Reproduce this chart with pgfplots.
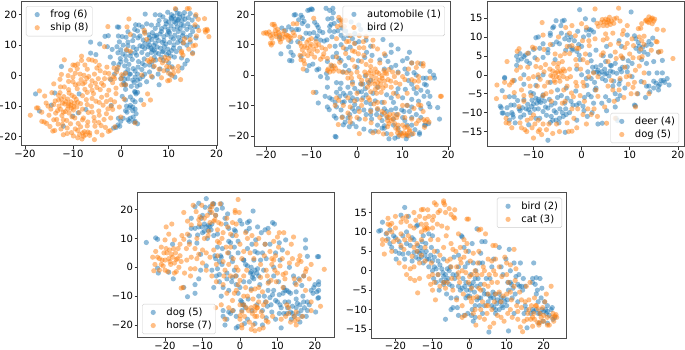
\documentclass[border=0pt]{standalone}
\usepackage{pgfplots}
\usepackage{fontspec}
\setmainfont{DejaVu Sans}
\pgfplotsset{compat=1.18}
\definecolor{tb}{HTML}{1F77B4}
\definecolor{to}{HTML}{FF7F0E}
\pgfplotsset{
  panel/.style={scale only axis, axis line style={black!70,line width=0.6pt},
    tick style={black!80,line width=0.5pt}, tick align=outside, tickwidth=3pt, xtick pos=bottom, ytick pos=left,
    ticklabel style={font=\fontsize{10}{12}\selectfont, inner sep=1.5pt},
    legend cell align=left,
    legend style={draw=black!20, rounded corners=1.5pt, fill=white, fill opacity=0.8, text opacity=1, font=\fontsize{10}{13}\selectfont, inner sep=1.8pt, row sep=0pt}},
  low/.style={xticklabel style={inner sep=0.7pt}},
  b/.style={only marks, mark=*, mark size=2.6pt, mark options={draw=tb, fill=tb, draw opacity=0, fill opacity=0.5},
    legend image code/.code={\path (0pt,0pt) (20pt,0pt); \draw[##1] plot coordinates {(9pt,0pt)};}},
  o/.style={only marks, mark=*, mark size=2.6pt, mark options={draw=to, fill=to, draw opacity=0, fill opacity=0.5},
    legend image code/.code={\path (0pt,0pt) (20pt,0pt); \draw[##1] plot coordinates {(9pt,0pt)};}},
}
\begin{document}
\begin{tikzpicture}[x=1pt,y=1pt]
\path[use as bounding box] (0,0) rectangle (685,349);
% panel 1
\begin{axis}[panel, at={(21.7pt,203.3pt)}, anchor=south west, width=195.3pt, height=144.7pt,
  xmin=-20.7,xmax=20.1,ymin=-23,ymax=24.5,
  xtick={-20,-10,0,10,20},xticklabels={−20,−10,0,10,20},
  ytick={-20,-10,0,10,20},yticklabels={−20,−10,0,10,20},
  legend style={at={(0.022,0.965)},anchor=north west}]
\addplot[b,forget plot] coordinates {(6,10)(7.5,12.5)(9,11.5)(10,14.5)(11,12)(12,14.5)(13,14)(14,17)(13,19.5)(10.5,19)(9.5,17)(8.5,14.5)(7,13)(6,12.5)(5,10.5)(4.5,9.5)(3,7.5)(2,6.5)(1,6.5)(0,4.5)(1.5,2)(3,1.5)(4.5,4)(6,3.5)(7,6)(8.5,6)(10,7.5)(11,9)(12.5,11.5)(14.5,11)(15,14.5)(16,16)(4,13)(4.5,16)(1.5,11)(0,8.5)(-1.5,4)(-2.8,9.5)(2.5,-8)(1,-8)(4,-3)(5,0.5)(6.5,4.5)};
\addplot[b] coordinates {(-17.8,-6)(-17,-11.6)(-14.5,-9.7)(-13.8,-5.7)(-12.4,3)(-8.7,-6)(-10,-13.3)(-8.9,-12.2)(-7.3,-11.1)(-12,-16.6)(-6.3,11)(-4.4,10.4)(-6.3,7.4)(-5.2,6.9)(-3.3,12.9)(-2.6,13.1)
(-1,-17)(-1.5,-17.2)(-0.6,-16.2)(-0.2,-16.6)(0,-15)(0.5,-14)(1.5,-14.5)(2,-14)(2.6,-13.6)(3,-15)(3.5,-15.8)(2.8,-15.2)(1.8,-15)(3.2,-12.5)(1,-11.5)(1.8,-10.5)(1.2,-10)(2.5,-10.3)(2,-9.8)(3,-11)(-0.5,-14)(1.3,-12)
(0,-1)(0.5,0)(1,1)(1.5,-1)(2,0.5)(2.5,-1.5)(3,-0.5)(3.5,0.5)(4,-1)(4.6,-0.3)(1,-3)(0.6,-2.5)(0.7,-3)(2.2,-3.5)(3.4,-3.5)(3,-5.5)(3.2,-6)(2.9,-5.2)(3.5,-5.5)(0.3,-6.8)(2,-7)(4.2,-8)(3,-8.6)(5.4,-2)(8,-3)(6.6,-0.5)(7.8,0.5)(10.4,0.4)(11.3,-0.5)(-0.8,2)(-1.3,0.5)(-0.4,3.6)(-0.1,5.6)(0.8,3.2)(1.7,3.7)(2.6,2.3)(3.6,2.8)(4.4,2)(5,3.4)(6,1.2)(6.8,2.9)(8.2,2.2)(9.7,1.8)(10.7,2.9)(12.8,2.5)(13.4,3.8)(1.1,5)(2.4,5.3)(3.7,4.6)(4.9,5.5)(7.3,5.1)(8.9,5)(10,4.2)(-0.6,7.5)(-1.8,8.6)(-2.2,6.1)(0.4,7.1)(1.2,8.2)(2.1,7.5)(3.3,6.7)(4.4,7.6)(5.6,6.9)(6.4,7.6)(7,8.4)(7.9,7.2)(8.7,7.8)(9.6,6.9)(10.4,6.5)(11.2,6.1)(12.7,5.8)(13.9,5)(15,7.5)(-0.8,9.5)(-0.3,11.1)(0.5,10)(1.5,9.8)(2.6,9.3)(3.3,8.7)(4,9.8)(5,8.9)(5.7,9.5)(6.3,9)(6.9,9.9)(7.6,9.4)(8.3,9)(9.1,9.5)(9.8,8.7)(10.6,8.2)(11.6,7.9)(12.3,9)(-0.5,13)(0.3,12.8)(1.1,12.6)(-0.4,15.9)(-0.7,16)(1.5,14.4)(2.9,15.2)(3.1,16.7)(3.8,16.6)(3.5,14.7)(2.7,13.1)(2.5,11.5)(3.6,12.4)(4.7,11.7)(5.8,11.2)(6.5,11.9)(7.2,10.7)(7.9,11.5)(8.7,10.9)(9.4,10.4)(10.2,10.9)(11.1,10.1)(11.9,10.9)(13,10.7)(13.8,10)(5,14.3)(5.9,13.4)(6.6,14.1)(7.4,13.2)(8.2,13.7)(9,12.8)(9.7,13.5)(10.5,12.6)(11.3,13.3)(12.1,12.5)(12.9,13.1)(13.7,12.6)(14.5,13.2)(15.7,12.4)(5.1,20.2)(5.4,17)(6.4,16.6)(7.2,15.5)(7.8,16.7)(8.5,15.4)(9.2,16)(9.9,15.1)(10.5,16.3)(11.1,15.2)(11.8,16)(12.4,15.4)(13.1,16.4)(13.8,15.2)(14.5,15.9)(15.4,16)(8,18.1)(8.8,19.3)(9.4,18)(10,17.6)(10.6,18.7)(11.1,17.7)(11.4,18.6)(11.9,17.9)(12.3,19.2)(12.8,18)(13.4,18.5)(14.1,19)(14.9,18.2)(9.8,20.8)(10.6,20)(11.5,21.7)(11.8,20.5)(12.3,20.3)(13.3,20.7)(14.5,20.4)(15.6,19.5)(7.2,20)(8.2,19.9)(-2,-9.8)(1,-4.5)(-2.1,-1.3)(11.5,17.2)(12,18.4)(11,19.5)(12.6,16.7)(10.2,14)(8.9,8)(6.6,8.5)(7.3,7.5)(1.8,0.5)(2.8,-2.2)(3.5,-1.5)(0.8,-1.2)(2.5,-11.5)};
\addplot[o] coordinates {(-18.9,-13)(-17.6,-10.6)(-17.3,-10.6)(-16.5,-15)(-16,-15.2)(-17,-5)(-15.9,-6.7)(-15.6,-9)(-15,-13)(-15.5,-15.7)(-14.6,-11)(-14.8,-16.7)(-14.2,-18.2)(-14.4,-5.6)(-14,-2.7)(-13.7,-8.3)(-13.6,-12.3)(-13.4,-14.4)(-13.1,-15.9)(-13.8,-18)(-13,-8)(-12.9,-10)(-12.7,-5.6)(-12.6,-11)(-12.6,-3.7)(-12.7,-1.2)(-12.4,0.4)(-12.3,-13.1)(-12.2,-16)(-12,-19.4)(-11.9,-6.9)(-11.7,-9.3)(-11.8,-3.7)(-11.6,-11.8)(-11.8,5.2)(-11.3,-14.7)(-11.2,-17.2)(-11.1,-7.7)(-11.2,-19)(-11,-9.9)(-10.9,-4.6)(-10.8,-12.3)(-10.9,-1.9)(-10.5,1.8)(-10.4,-8.6)(-10.3,-10.7)(-10.5,-15.8)(-10.3,-18.7)(-10.2,-6.5)(-9.9,-19.8)(-10,-2)(-10,3.5)(-9.9,-11.3)(-9.7,-9)(-9.6,-13.9)(-9.5,-17.5)(-9.5,0.8)(-9.6,3.4)(-9.3,-7.8)(-9.2,-10.3)(-9.1,-4.3)(-9.1,2.3)(-9,-20.4)(-8.9,-15.7)(-8.7,-12.1)(-8.6,-19.3)(-8.4,-9.2)(-8.3,-1.3)(-8.4,-16.8)(-8.2,5)(-8.2,6.4)(-8.1,-20.8)(-8,-6.6)(-7.9,-2.7)(-7.8,-13.9)(-7.7,0.1)(-7.6,-18.4)(-7.5,-4.5)(-7.4,-19.5)(-7.2,-7.9)(-7.1,-0.9)(-7,2.1)(-6.8,-12.1)(-6.9,-15.2)(-6.7,5.3)(-6.5,-18.8)(-6.3,-3.3)(-6.5,-19.6)(-6.1,-10.1)(-6,-1.7)(-6,5.1)(-5.7,-5.9)(-5.6,-13.7)(-5.4,-16.6)(-5.3,4.7)(-5.5,-21)(-5.2,-8.4)(-5,-3.9)(-5,-18.5)(-4.7,-1)(-4.6,-11.6)(-4.6,-15.4)(-4.3,1.6)(-4.3,-4.6)(-4.1,-16.4)(-4,-7.1)(-3.9,-19.5)(-3.7,-9.7)(-3.6,-3.2)(-3.5,-14.4)(-3.4,-1)(-3.2,-17)(-2.9,2.8)(-2.9,-6.4)(-2.7,-10.9)(-2.6,-18.3)(-2.5,-4.8)(-2.5,0.7)(-2.1,-7.9)(-2.1,-13.9)(-2.2,-18)(-1.7,-2.3)(-1.7,-11.1)(-1.4,2.5)(-1.3,-8.6)(-1.2,-16.8)(-1,-4.1)(-0.9,1.2)(-1,-5.9)(-0.6,2.7)(-0.3,-10.3)(0,-13.6)(0.2,-3)(0.7,-7.7)(-2.7,16.1)(-3.4,9.5)(-4.5,3.4)(-3.3,0.9)(1.3,16)(1.7,18.6)(2,13.5)(5,13.9)(4.9,14.9)(5.4,11.9)(2,8)(1.2,8.5)(5.6,-6)(6.2,-8)(4.8,-9.5)(5.6,5)(6,4.5)(6.3,5.5)(6.4,-0.2)(7,3.1)(6.8,5)(8,2.1)(8.2,5.3)(8.7,4.2)(9,1.6)(9.6,3)(9.5,4.9)(9.2,6)(9.8,-1.7)(10,0.8)(10,5.7)(10.2,2.8)(11,2.3)(11,0.8)(10.7,0)(10.2,-1.5)(12,1.5)(12.5,-1.3)(12.7,7.5)(12.7,8)(13.1,10.8)(13,6.7)(13.3,12.1)(14.2,8.7)(15,7.2)(15.6,10)(15.1,9.8)(14.3,22)(13.9,22)(11.4,22)(15.7,20)(16.2,18.5)(17.5,18.7)(17.6,15)(18,15.2)(18.1,14.8)(17.7,14.3)(18.4,12.8)(16.3,14.8)(15.8,13)(14.5,11.8)(15.5,16.7)(3,-15.5)(4.4,0.2)(1,-3)(-1.3,-1)(0.1,-1)(1,0.7)(-11.5,-8.5)(-10.8,-9.3)(-10.4,-9.8)(-9.8,-10.1)(-11.1,-10.9)(-12.2,-9)(-12.4,-7.7)(-9.7,-7)(-9,-8.8)(-13.2,-11.5)(-12,-12)(-10.2,-13.5)(-8,-18.8)(-7.8,-19.9)(-6.9,-18.5)(-8.8,-2.7)(-7.5,-2.2)(-6.7,-0.3)(-5.3,-2.5)(-6,-4.8)(-4.5,-8.8)(-16.5,-12)(-14,-14.5)(-15.2,-10)(-13,-6.5)(-14,-9.5)(-12,-14.5)(-10.8,-5.7)(-8,-11)(-7,-9.5)(-6,-7.5)(-7,-5.5)(-5.5,0.5)(-4,-2.5)(-3,-8.5)(-2,-10)(-4.5,-13)(-6,-12)(-7,-16.5)(-9,-18)(-12.5,-17.5)(-8,-14.5)(-5.5,-15)(-3,-12.5)(-9.5,-3)(-11,0)(-10,-0.5)(-8.5,0.5)(-9,3.8)(-7.5,3.5)(-5,2.5)(-2.3,-1)(-1.5,-0.3)(0.2,0.3)(8.5,-0.7)(12,3)};
\legend{frog (6),ship (8)}
\end{axis}
% panel 2
\begin{axis}[panel, at={(254pt,202.3pt)}, anchor=south west, width=196pt, height=145.7pt,
  xmin=-22.6,xmax=20.4,ymin=-23.6,ymax=24.4,
  xtick={-20,-10,0,10,20},xticklabels={−20,−10,0,10,20},
  ytick={-20,-10,0,10,20},yticklabels={−20,−10,0,10,20},
  legend style={at={(0.974,0.967)},anchor=north east}]
\addplot[b,forget plot] coordinates {(-9,12)(-7.5,14)(-6,14.5)(-3.5,10)(-1,12)(-4,5.5)(-5.5,3)(-3,1)(0,2.5)(-6.5,-1)(-4.5,-10.5)(-3,-6)(-1.5,-6)(1,-5.5)(2,-6.5)(4,-8.5)(6.5,-6.5)(9,-4.5)(11,-10)(14,-11)(10,-14)(8,-14.5)(6,-17.5)(9.5,-19)(3,-13)(0.5,-14.5)(-1,-7.5)(-11,1.5)(-13,11)(-12,12)(-14.5,11)(-17,12.5)(6,2)(7.5,2.5)(10.5,2)(13,0)(14.5,-1)(15.5,-5.5)(12.5,-4.5)(16,-7)};
\addplot[b] coordinates {(-10.8,21.3)(-10.4,21.5)(-10,21.8)(-9.8,21.6)(-6.8,22)(-6,21.3)(-5.3,22)(-5.2,20.5)(-13.8,19.8)(-13.5,19.9)(-12.8,18.2)(-12.3,19.7)(-12,19)(-11.6,17.7)(-12,17)(-10.8,16.2)(-9.3,17.4)(-8.8,16.5)(-8.5,15.7)(-8.2,14.5)(-6.4,18.5)(-6,16)(-5.5,18.7)(-5,17)(-5.7,16.7)(-4,18)(-4.2,14.6)(-3.3,15.5)(-2.5,14.5)(-1.3,17.5)(-0.5,13.7)(0.4,16.5)(0.8,15)(2.8,15)(-16.5,15.5)(-15.7,14.7)(-15,15.9)(-14.3,15)(-13.3,15)(-12.8,15)(-11.2,13.8)(-10.4,13.7)(-9.5,14)(-8.7,12.9)(-8,11.5)(-7.2,11.2)(-6.6,11.6)(-5.5,12.6)(-5,14.3)(-3.5,13.1)(-2.9,12)(-2,13)(-0.4,10.5)(0.4,11)(2,11.5)(3,9.5)(5.7,11.7)(7.5,9.9)(9,8.6)(11.5,7.5)(11,5.5)(12,4)(12.5,0.8)(14,3.7)(16,1.2)(15.2,-1)(17,-1)(16.8,0)(-16.7,7)(-15,9.3)(-14.5,7.5)(-14,6.5)(-14.8,4.8)(-14.3,4.7)(-12.3,6.1)(-10.5,3.1)(-9.7,3.6)(-8.8,1.7)(-8.4,2)(-8,-0.5)(-6.7,0.5)(-6.5,4.5)(-5.3,6)(-4.5,7.2)(-3.5,4.8)(-4.8,9.5)(-2.4,8.5)(-1.5,9.2)(-1.8,5.7)(-2.6,3.1)(-1.8,1.5)(0.3,4.7)(1.7,5.8)(2.1,7.5)(3.3,6.5)(5,5)(6.8,4.5)(7.5,7.5)(6.2,6.4)(8.5,3.2)(10,4.7)(9,1)(11,0.5)(-4.5,-2.5)(-3.5,-2.7)(-3.7,-4.5)(-2,-4)(-1,-2.3)(-0.5,-4.4)(0.8,-2.9)(1.3,-3)(1.8,-0.3)(3,-1.7)(-9,-5.7)(-8.5,-9.2)(-7,-7)(-6.5,-10.5)(-6.5,-4)(-6,-7.5)(-5.5,-8)(-4.8,-9)(-4.5,-5.7)(-3.8,-7)(-3.2,-9)(-2.8,-8.8)(-2.5,-6.8)(-1.4,-8.5)(-0.5,-9.7)(0.3,-5.5)(1.8,-4.5)(1.3,-7.5)(2,-9)(3.5,-6)(3,-9.5)(5.5,-9)(6,-11.1)(7.5,-7.5)(8,-9)(8.6,-6)(10,-7.5)(10.6,-4.7)(12,-3)(11.3,-1.8)(12,-8)(13,-6)(14,-5)(14.7,-7)(14.8,-3)(15.2,-3.3)(13.5,-8.6)(15.7,-9.4)(16,-10.5)(17.7,-10.7)(18.1,-14.5)(-6.1,-11.4)(-5,-13.5)(-4.6,-14.2)(-3.5,-11.5)(-3.2,-13.8)(-2.6,-15.5)(-2,-14.1)(-1.6,-13)(-1,-16)(-0.5,-12)(0.3,-11)(1.5,-11.5)(2,-13)(3,-11.5)(3.2,-14.5)(4.5,-11.4)(4.3,-13)(5.5,-13)(5.5,-15)(6.5,-12)(6.6,-14)(7.5,-11.5)(8.5,-11)(8.7,-13)(9.8,-11.5)(10.3,-12)(10.5,-15)(11.5,-12)(12,-10.5)(12,-14)(13,-13)(14,-14)(14.8,-16.5)(15.7,-16)(4.5,-16.5)(5.5,-17.5)(4,-18.5)(3,-18.5)(1.5,-17.8)(-0.2,-17)(-1.7,-17)(-3,-16.4)(-4.6,-20.4)(-4.8,-20.2)(6.5,-19.3)(7,-21)(8.3,-20.8)(9,-20.3)(10.8,-21)(11,-20)(12,-19.5)(13.7,-19.5)(13.7,-19)(6,-16.7)(8,-16.5)(9,-17.5)(11,-16.5)(12,-16.5)(12.7,-18)(15,-16.5)(0,-8)(-1,-11)(2.5,-2.5)(4.5,-4)};
\addplot[o] coordinates {(-20.5,13.8)(-20,14)(-19.7,13.6)(-19.3,14.2)(-19,13)(-18.7,12.2)(-18.5,13.5)(-18.6,16.7)(-18.2,16.7)(-18,16)(-17.9,14.6)(-17.7,12.7)(-17.4,15)(-17.2,14)(-17,13.2)(-17,11.8)(-16.8,10.9)(-16.3,13.5)(-16,14.5)(-15.8,12.5)(-15.5,13.2)(-15.2,13)(-15,11.5)(-14.8,12.7)(-14.5,12.2)(-14,14)(-13.7,13)(-19,10.5)(-18.8,9.9)(-18.5,10.6)(-14,16.9)(-13.2,16.9)(-12.5,12.5)(-12.5,10.5)(-12.2,9.5)(-12,8.3)(-11.5,9.5)(-11.6,7)(-11,10.8)(-11,9)(-10.6,11.5)(-10.5,8)(-10.3,9.5)(-10,7)(-10,10.1)(-9.5,8.5)(-9.3,5.9)(-9,9.6)(-8.7,7.9)(-8.4,10)(-8,5.2)(-7.7,9)(-7.3,7)(-6.9,8.5)(-6.5,5.5)(-12.5,6.5)(-12.3,5)(-11.7,4.8)(-11.5,3.7)(-10.8,6.4)(-11.8,2)(-9.5,18.7)(-4,19)(-3.5,18.2)(-3.2,17.8)(-4.3,16)(-3.5,16.5)(-2.5,18)(-2.8,16)(-4.5,12)(-2.3,11)(-1.8,11.1)(-2.5,7.1)(-1,8)(-0.6,10.4)(-0.5,7.7)(0.5,9)(0.3,7)(1.4,11)(1.5,9)(2,12.7)(3.5,11.5)(3.5,9.5)(4.5,8.6)(6,7)(5,4)(3,4.7)(2,3.5)(1,4.5)(-1,5)(-0.5,2.8)(0,1)(-6.3,2)(-6.5,1.5)(-6,1)(-5.7,3.3)(-5.5,2)(-5.2,1.3)(-5,3)(-4.7,2.2)(-4,1.3)(-3.8,4.2)(-3.2,1)(-2.3,0.8)(-1.3,0.5)(-1.2,-1)(1.7,1)(2,0)(2.3,-1.7)(2.6,0.7)(3,1.4)(3.2,-0.5)(3.5,-2)(3.7,0.5)(3.9,-3)(4,2)(4.2,-1)(4.5,-2.5)(4.7,-4)(4.8,0.5)(5,-1.7)(5.2,-3)(5.3,-5.7)(5.5,-0.2)(5.7,-4.3)(4.3,-6)(5.9,1.5)(6,-2)(6.3,-3.5)(6.5,0.4)(6.8,-1.5)(7,1.8)(7.4,-2)(7.8,1)(8.2,-0.5)(8.5,-2.5)(9,0.7)(9.4,-3)(10,-0.5)(10.5,-1.5)(11.3,2)(12,-1.5)(13,2.5)(12.6,-2)(13.5,-2)(14.5,3)(14.5,3.8)(13.3,4)(13.2,-4)(18.5,-7)(18.3,-7)(-1,-3)(1,-3)(0,-6)(3,-5.5)(2.3,-4)(-9.6,-5.7)(-4.5,-7.5)(-4,-8.3)(-4.8,-10)(-1.5,-10.5)(-2,-7.5)(1,-10)(2.5,-7.5)(2.8,-8.2)(1,-8.2)(4.5,-9)(3,-12)(4.5,-11)(5.5,-12)(6,-12.5)(6.5,-13.5)(6.7,-15)(7,-14)(7.2,-13)(7.5,-15)(7.9,-14.5)(8.3,-16)(8.7,-14)(7,-16)(9,-13)(10,-10)(10.5,-14)(11,-10)(12.5,-11)(-3.3,-14)(-2,-12.5)(-1.5,-14)(-1.5,-15.5)(0,-14)(0.5,-12)(1.8,-14.5)(3.1,-15.7)(-4.1,-16.3)(8.5,-17.5)(9,-16.5)(10,-16.5)(10.5,-17.3)(11,-17)(11.5,-18.5)(8.9,-19)(9.3,-19.8)(9.8,-19.3)(10,-20)(10.3,-19)(10.7,-19.7)(11,-19.3)(11.3,-20)(11.5,-18)(13,-16)(13.5,-15)(14.6,-14.7)(15,-15.3)(15.4,-14.6)(15.8,-15.5)(14.8,-17.2)(0.5,-19.3)(3.5,-19)(4.7,-18.7)(5.8,-19.4)(6.7,-17)(12,4)(13.5,-0.5)(11,-6)(9,-7)(13.5,-9.8)(14,-10)(-16.5,12)(-17.8,13.5)(-10,12)(-9,11)(-7.5,6)(-6,9.5)(-4.5,6)(-3,9)(-1.5,13)(0.5,13)(1.5,6.5)(-2,-1)(0.5,-0.5)(1,-1.7)(2.8,-3)(4,-4.7)(6.2,0.8)(4.4,1)(5.5,-1)(3,2.8)(7.5,-4)(8,-6)(6,-9)(3.7,-9.5)(5,-14)(8,-13)(12,-14.5)(14.5,-12)(9,-18)(7.5,-19.5)(12.3,-19.3)(-0.5,-8.5)(-3,-10)(16,-1)};
\legend{automobile (1),bird (2)}
\end{axis}
% panel 3
\begin{axis}[panel, at={(487.3pt,202.3pt)}, anchor=south west, width=196.7pt, height=145.7pt,
  xmin=-19.6,xmax=21.3,ymin=-19,ymax=19.5,
  xtick={-10,0,10,20},xticklabels={−10,0,10,20},
  ytick={-15,-10,-5,0,5,10,15},yticklabels={−15,−10,−5,0,5,10,15},
  legend style={at={(0.975,0.025)},anchor=south east}]
\addplot[b,forget plot] coordinates {(-15,-12)(-12.8,-9.5)(-10.7,-10)(-9.5,-11.5)(-7.7,-7)(-6.3,-8)(-5.5,-7.5)(-3.5,-7.5)(-1.8,-8)(-8.7,-11.5)(-7.3,-10.7)(-4.7,-12.7)(-13.5,2.5)(-10.8,3)(-8.7,7)(-6,8)(-3.3,6.5)(-4.3,13)(0,7.5)(3,6.5)(4.5,5)(6,2.5)(5,-1.5)(6.5,-3)(2,-1)(8,-1.5)(9.7,3.7)(10.5,3)(12.5,4)(13.5,3)(11.3,7)(14.5,8)(13.3,-6)(16,-4)(17.8,-1)(7,-5)(0.5,-9.5)(2.5,-7.5)(-1,-12)(-8,0)(-14,-1.5)};
\addplot[b] coordinates {(-0.4,17.2)(0.8,14.8)(1,11.8)(1.5,10.5)(1.6,12)(2,11.8)(2.5,14.5)(2.5,11.3)(-4,14.2)(-3.6,14.4)(-5.3,14.3)(-5.8,12.7)(-6,12.4)(-6.5,11)(-6.5,10.4)(-4.2,11)(-3.5,9.5)(-3,10.5)(-2.6,9.2)(-2.2,10)(-1.5,9)(-0.8,11.5)(0.4,10)(-4.6,8.2)(-5.2,8.7)(-2.5,7.5)(-1.8,6.9)(-2,6.5)(-1,6.2)(-0.5,5.2)(-0.6,8)(-9.5,9.8)(-9,10)(-8,8.2)(-10,6.7)(-12.8,5.6)(-13.5,4.9)(-13.2,3.8)(-12.5,4.2)(-12,4.8)(-11.7,5.2)(-11.4,3.6)(-11,5.7)(-9.7,4.5)(-8,4.6)(-7,6.7)(-7,5.8)(-5.5,4)(-16,-0.9)(-16,-0.7)(-16.5,-4.2)(-16.9,-8.3)(-16.7,-8.7)(-16.5,-10.1)(-16.3,-10.1)(-15.5,-8.7)(-15.4,-10.5)(-15,-5.8)(-14.7,-8)(-14.5,-10)(-14.3,-10.5)(-14.2,-11.2)(-14,-8)(-14,-5.8)(-13.8,-12.7)(-13.3,-6.8)(-13,-9)(-12.7,-11.2)(-12.3,-8.7)(-12,-6.6)(-12,-10.6)(-11.5,-9)(-11.2,-7.8)(-11,-9.2)(-11,-13.2)(-10.6,-4.7)(-10.4,-8.4)(-10.3,-6.7)(-10,-5)(-10,-7.7)(-9.8,-9.1)(-9.5,-6.2)(-9.3,-7.5)(-9,-6.5)(-9,-9)(-8.8,-7)(-8.5,-7.3)(-8.2,-6)(-8,-9.7)(-8,-5.3)(-7.5,-8.5)(-7,-8.8)(-6.7,-6.5)(-6.3,-11)(-6,-12)(-5.7,-9.5)(-5.3,-12)(-6.5,-12.6)(-5.3,-10)(-5,-6)(-4.6,-11.5)(-4.5,-9)(-4.2,-5.5)(-4,-10)(-3.8,-11)(-3.3,-9)(-3.2,-10.5)(-3,-6.2)(-2.5,-10)(-2.2,-7)(-1,-8)(-0.5,-7.5)(0.3,-8.3)(0.6,-6)(1.4,-5.2)(2,-5.8)(-3.4,-15.2)(-7,-17.3)(3.4,-13)(4.3,-12.8)(7.2,-11.5)(7.5,-12.1)(1.2,-11)(2.2,-10)(5,-5.8)(5.7,-6.8)(5.2,-9.5)(4.2,-7.5)(7.5,-6.5)(7,-8.5)(11,-8)(11.2,-8.2)(8,-5.5)(3,-3.5)(2.8,-4)(2.7,-2)(1.1,-2.8)(1,-1)(1.3,0.8)(2.3,2)(2.5,0.7)(3,2.1)(3.2,0.7)(3.4,1.2)(3.7,0.3)(4,2.5)(4.2,0.8)(4.3,-1)(4.8,0.2)(4.8,1.5)(5.2,0.4)(5.7,-0.3)(6,1)(6.2,2.4)(6.5,0.7)(6.7,-1.7)(7,3)(7.3,0.4)(7.8,-2.5)(8,1.5)(8.3,0.8)(8.5,2)(8.6,4.3)(9,-3.5)(9.5,0.8)(9.5,2.1)(10.5,-0.5)(12.4,-1.8)(11.7,-5)(13.5,-3)(14,-3)(15,-3.5)(14.2,-4.5)(15,-1.7)(15.5,-2.2)(16,-3)(16.3,-2.5)(16.5,-1.5)(17,-1.5)(17.3,-2)(18.2,-2.7)(16.8,0.5)(15.7,0.5)(14,0.4)(11,10.3)(11.3,9.5)(11.8,8.5)(12,7.5)(12,6.2)(12.7,7.3)(13,6)(13.5,7.8)(14,8.8)(14.8,9.7)(13.8,5.4)(15,3.5)(16,6)(16.8,3.8)(10.3,16.6)(9.5,10.5)(7.8,9)(8.3,7.5)(6,5)(5,3.5)(5.2,7.5)(1.7,5.3)(2,3.7)(0,0)(-0.3,4)(-1,1.5)(-6.5,-2)(-5,-4)(-3.2,-3.5)(-1.2,-4.3)(-9,-0.7)(-9.5,-2.8)(-12,-2.5)(-12,0)};
\addplot[o] coordinates {(-17.6,-2.7)(-17.7,-6.3)(-15.9,-5.9)(-15.5,3.5)(-15,-2.7)(-15.7,-11.5)(-15.7,-12.7)(-15.1,-12.8)(-14.5,-2)(-14.3,-1.5)(-14,-4.7)(-13.5,1.2)(-13.4,6.2)(-13,6.9)(-13,-8.4)(-12.8,-12.7)(-12.5,-4)(-12.5,-14)(-12,-5.5)(-12,-7)(-11.8,-14.5)(-11.3,-12)(-11,-1)(-11.2,2)(-11.2,5.7)(-10.7,-3)(-10.5,-5.5)(-10.5,-11.5)(-10.3,-14)(-10.2,7.3)(-10,-16.7)(-10,-10.6)(-10,-0.5)(-9.5,2.2)(-9.7,7)(-9.2,4)(-9.2,-3)(-9,-12)(-9,-15)(-8.7,-14.5)(-8.5,1.9)(-8.3,-15.8)(-8.2,13.8)(-8,10.5)(-7.8,6.7)(-7.5,2.7)(-7.4,-5)(-7.3,-14.5)(-7,-2)(-6.8,-13)(-6.6,1.5)(-6.3,-4.5)(-6.3,-7)(-6,-15.5)(-5.8,3)(-5.7,-1.5)(-5.5,-2)(-5.4,0.5)(-5.2,-13)(-5,2)(-5,0.8)(-4.8,3)(-4.7,-0.7)(-4.6,-15)(-4.5,-1.7)(-4.4,1)(-4.4,5)(-4.2,0.5)(-4,3.5)(-3.8,-0.5)(-3.7,-4)(-3.5,1)(-3.5,5.6)(-3.4,-7)(-3,-1)(-3,-12.7)(-2.7,-15)(-2.5,1.5)(-2.5,5.6)(-2.5,11)(-2.3,-0.5)(-2.1,-4.8)(-2,7.7)(-2,13)(-1.7,-5.8)(-1.6,-11.5)(-1.3,10.3)(-1.2,-2)(-1.2,4)(-1,-3)(-0.8,-9)(-0.6,7)(-0.3,-5.5)(-0.2,1.5)(0,13.5)(0.2,9)(0.3,-2)(0.6,-7)(0.8,5.5)(1,-13)(1.2,3.2)(1.3,-9)(1.6,7.7)(2,-10.5)(2.6,-9)(2.8,17.4)(2.8,9.5)(3.2,13.6)(3.4,-5.7)(3.4,-0.5)(3.5,12.8)(4,13.8)(4.1,5.2)(4.3,14.6)(4.5,13)(4.7,14)(4.8,-8.5)(5,14.7)(5.2,13.8)(5.3,13)(5.5,14.5)(5.7,14)(6,13.3)(5.8,15.2)(6.2,14.2)(6.7,13.6)(6.8,14.8)(7.3,15)(7.7,17.6)(8,14.2)(5,10.8)(5.3,9.6)(5.2,-12.8)(5.5,3.5)(6,8)(6.2,-1.5)(6.5,-4)(7,6)(7.2,4.3)(7.7,8.3)(7.8,-4)(8,-1)(8.5,10.7)(8.7,11.7)(8.8,-6)(9,2)(9,7.2)(9.5,8.3)(9.7,-2.5)(10,-0.3)(10,5.5)(10.3,-5)(10.7,-3.3)(10.7,4.5)(11,-2)(11.2,1.2)(11.2,-8.5)(11.5,-5)(11.8,12.2)(12,2.3)(12.3,6.8)(12.3,12.3)(12,10)(12.5,9)(13,10.2)(13,0.5)(13.3,14.3)(13.5,14.5)(13.7,14)(14,15.3)(14,13.8)(14.3,14.5)(14.5,14.8)(14.7,15)(15,14.2)(15.2,14.7)(15.5,8.8)(15.7,8.7)(16,6)(16.5,6.2)(17,11.8)(19,4.3)(14,-5)(12.6,4.8)(3,-4)(2.5,0.5)(0.5,-3)(-3,7.5)(-6,-0.4)(-7.8,0.8)(-2,-14.9)(-2,-9)(-5.2,-0.5)(-3.8,1.5)(-6.4,-0.2)(-8.6,-1.2)(-9.7,-13)(-11.4,-15)(-7.7,-3)(-1,2.5)(1.5,-0.5)(4.5,5.8)(8.2,5)(10.8,7.7)(-16,-2)(-14.5,-14)(-12.7,2)(-12.7,-1)(-9,0)(-8,-5.5)(-8,-13)(-6,1)(-5.5,5.5)(-6.5,8)(-4.8,10)(-3.3,12.5)(-1,7)(1.5,9)(1,12.5)(0.3,-10.5)(-1,-14)(-4,-7.5)(-3,-3)(0.3,4)(4.5,9.2)(6.5,11)(6.8,-7)(8.5,4.5)(9.3,-0.5)(10.5,9.5)(12,4.5)(13,8)(14.5,6.5)(9.5,13)(13,-2)(7,-11.5)(3.3,-11)(5.5,-3)(12.5,13.5)(15.7,12)(14.7,13.5)};
\legend{deer (4),dog (5)}
\end{axis}
% panel 4
\begin{axis}[panel, low, at={(137.7pt,11.3pt)}, anchor=south west, width=196.3pt, height=145.4pt,
  xmin=-27.3,xmax=25.1,ymin=-24.4,ymax=26,
  xtick={-20,-10,0,10,20},xticklabels={−20,−10,0,10,20},
  ytick={-20,-10,0,10,20},yticklabels={−20,−10,0,10,20},
  legend style={at={(0.022,0.025)},anchor=south west}]
\addplot[b,forget plot] coordinates {(-11,14)(-10,18)(-9.5,12.5)(-8,19)(-4.7,20.5)(-2,11)(-0.5,9)(0.5,15)(1,2.5)(1,-5)(2.5,-5)(2.2,-11)(3.7,-4)(4.7,5)(5,-10)(6,-15)(6.7,8)(7,-17.5)(8,8)(9,-3)(9.5,5)(10.5,-9.5)(11.7,-7)(12,-12)(12.5,-16)(13,-12)(14,-13.5)(15,-14)(16,-13)(18,-15)(19.5,-9)(-5,-10)(-3.5,-2)(-7.5,-1)(-6,11.5)(-3,9)(-1.5,7)(-11,-4)};
\addplot[b] coordinates {(-25,8.6)(-22.5,10.2)(-22,9.7)(-22,-0.3)(-21.8,-2)(-19,-1.7)(-18,8)(-17.8,-4)(-15,-7)(-14,-10.2)(-13.5,8.8)(-13.5,11)(-13,13.5)(-13,17)(-12,-6)(-12,-9)(-12,13.5)(-12,21)(-11.5,8.4)(-11.3,11.2)(-11,22.2)(-10.5,-1)(-10.5,4.5)(-10.3,17)(-10.2,14)(-10,12)(-9.5,15)(-9.3,20.8)(-9,14)(-9,23.8)(-8.7,10)(-8.5,12.8)(-8.4,14.5)(-8,14.2)(-8,21)(-7.7,13)(-7.5,15)(-7.2,22)(-7,11)(-7,22)(-6.7,4)(-6.5,3)(-6.5,18)(-6.3,-3)(-6.2,20)(-6,7)(-6,-0.5)(-5.5,2)(-5.5,-2.5)(-5.5,-5)(-5.2,4)(-5,3.5)(-5,22)(-4.7,6.5)(-4.5,-7)(-4,17)(-3.7,15)(-3.5,-4)(-3.3,18.5)(-3,13.5)(-3,-8)(-2.5,8.5)(-2.3,3.5)(-2.2,-5)(-2,2)(-2,-3.5)(-1.8,-15)(-1.5,13)(-1.2,12.5)(-1,-3)(-0.5,5)(-0.5,-9)(0,-7)(0,16.2)(0.2,-11.5)(0.5,-12)(0.5,-15)(0.7,-13)(1,-13)(1.2,-19.5)(1.5,-14)(1.7,12.5)(1.5,1)(2,-18)(2,6.5)(2,15.5)(2.5,16)(2.5,13.5)(2.8,-2)(3,0)(3,-1.5)(3,-7.5)(3.2,8)(3.2,-15)(3.5,-2.5)(3.5,19.5)(3.7,2.5)(4,5.5)(4,-19.5)(4.2,9.5)(4.5,-13)(4.5,-2)(4.7,14)(5,-3)(5.3,-6)(5.5,2.5)(5.7,12)(6,-20)(6,5)(6.3,-1)(6.5,-10)(6.7,13)(7,3)(7.3,-13.5)(7.5,13.5)(7.7,-5)(8,-10.5)(8.3,-13)(8.5,-15.5)(8.7,15.5)(8.7,-9.5)(9,0)(9.2,15)(9.5,-18)(9.5,-11.5)(10,-12)(10.3,-5)(10.5,-16)(10.5,8.5)(10.7,2.5)(11,-21)(11,-14)(11.3,6)(11.5,-9)(11.7,-16)(12,-8)(12.2,9.5)(12.5,-8)(12.7,-14)(13,-8.5)(13.2,0)(13.5,-15.5)(13.5,-9)(13.7,-18)(14,-16)(14.3,-3)(14.5,-17)(14.7,-5.5)(15,-8.5)(15,-11)(15.3,-12.5)(15.5,-16)(15.7,-4)(16,-19)(16.3,-15)(16.5,-17)(16.5,-6.3)(16.8,-10)(17,-3)(17,-12)(17.2,-14)(17.5,6.7)(17.5,9.5)(17.7,-17)(18,-12)(18,3.8)(18.5,-13)(19,-8)(19.7,-7)(20,-6)(20.2,-15.5)(20.5,-8.5)(20.7,3.7)(21,3.7)(21,-5)(21,-6)(21,-8)(20.8,-10.7)(21,-10.5)(-9,0.5)(-7,-7)(-1,-17)(-1,-21)(-3.5,-18)(-4.5,-15)(-4,-20)(-4.5,-17)(-3,-15.5)(-0.5,-20.5)(-2.5,-16)(1,2.5)(2,0.5)(4,-1)(4.7,-0.5)(3.3,-3.5)(-4.8,1)(-3,5)(-1.5,-1)(-1,-6)(6.8,-12)(7.5,-8)(9,-8)(10.7,-13)};
\addplot[o] coordinates {(-23.3,3.5)(-23,-1.2)(-22.7,1)(-22.5,5.5)(-22,3.5)(-21.5,-1)(-21.5,3)(-21,7)(-20.8,2.5)(-20.5,0.5)(-20.3,5)(-20,9.5)(-20,2.5)(-19.7,14)(-19.5,5)(-19.3,-1.5)(-19,3)(-19,11.5)(-18.8,6)(-18.5,1)(-18.3,4.5)(-18.2,15)(-18,3.5)(-17.7,6.5)(-17.5,1.5)(-17.5,9.5)(-17.2,5)(-17,2.7)(-17,-1.5)(-16.5,6.5)(-16.3,0)(-16,4)(-15.7,2)(-15.5,11)(-15,9.7)(-15,19)(-14.8,-2)(-14.3,6.5)(-14.2,2.5)(-14,11.5)(-14,16)(-13.5,8)(-13.2,-0.5)(-13.2,-3)(-13,14.7)(-12.5,21.5)(-12,-0.5)(-12,6.5)(-11.7,19.3)(-11.5,10)(-11,16.5)(-10.7,17.5)(-10.2,21.5)(-15.7,-7.2)(-15.2,-7)(-10,6)(-10,1.5)(-9.5,17)(-9,5)(-9,-1)(-8.7,18)(-8.3,12.5)(-8,15.5)(-8,20)(-7.5,19)(-7.5,-3)(-7.3,22)(-7,6)(-7,16)(-6.7,16.5)(-6.5,18)(-6.3,-5)(-6,13)(-6,4)(-5.7,15.5)(-5.3,22)(-5,-13)(-5,15)(-4.8,10)(-4.5,12)(-4.3,-3)(-4,-1)(-3.7,7)(-3.5,-9)(-3.3,14)(-3.3,5)(-3,1)(-3,-14)(-2.5,-3)(-2,-11.5)(-1.8,3)(-1.5,-9)(-1.3,19.7)(-1,0)(-1.2,-3)(-1,15)(-0.5,-1)(0,-13)(0,8)(0,-18)(0,-4.5)(0.5,3)(0.5,-15.5)(1,5.5)(1,-3)(1.2,-17)(1.5,-7)(1.7,-14)(1.8,-1)(2,10)(2.3,-15)(2.5,-19)(2.7,5)(3,-14)(3,-8)(3.2,11)(3.3,-16)(3.5,-20)(3.7,3)(4,-7.5)(4,-13.5)(4.3,8)(4.5,-17)(4.7,-14)(5,10)(5,-7)(5.2,-21.5)(5.5,-3.5)(5.7,-15.5)(6,-8.5)(6.3,-13)(6.5,4)(6.7,8)(7,-18.5)(7.3,-3)(7.5,-5.5)(7.7,12)(8,5.5)(8.3,-4.5)(8.5,1)(8.7,-17)(9,9)(9.3,-1)(9.5,4)(9.7,-5)(10,10.5)(10.5,12)(10.7,0.5)(11,-18)(11.3,3)(11.5,-2.5)(11.7,12)(12,-4)(12.2,-2)(12.5,-13)(12.7,5)(13,-16)(13.2,1.5)(13.5,-19)(13.7,8)(14,3)(14.3,10.5)(14.5,-4)(14.7,-18.5)(15,-20)(15,-6)(15.3,1)(15.5,-18)(15.7,2.5)(16,-4.5)(16.3,2)(16.7,-17)(17.5,-1.5)(17.5,-8)(17.7,-0.5)(18.5,-4)(19,-12)(19,-15)(19,1)(21.5,-13.5)(22.5,-0.7)(-0.2,19)(-0.5,23.5)(-1.3,19)(0,-16.8)(0.5,-21)(3,-21.5)(4,-22)(4.5,-14)(5,-12)(6.2,-21)(7,-12)(-6.5,-14)(-7.5,21)(-8.5,11)(-10.8,15)(-8,3.5)(-6.3,1)(-18.7,2)(-19.7,6.5)(-16.7,3)(-4.5,2)(-1,-8)(1,-13)(4,-15)(8.5,3)(-6,9)(-2.5,11.5)(-3.5,17)(-21,1)(-20,-1)(-17.5,-2)(-16,8)(-13,3.5)(-11.5,3)(-11,4.5)(-9.5,10)(-5.5,8.5)(-4.5,-6)(-2.5,7)(-0.5,-6)(1.5,12)(1,-10)(2,-10)(3.5,-11)(4,-17)(6,-17)(7.5,-19)(5.5,1)(7,-1)(9,2.5)(10,-2)(10.3,7)(11.5,-7)(12.2,-17)(13,-14)(14.5,-17)(15,-15.5)(16,4)(17,-3)(-1,11)(0.5,-20)(-4,-18)(-2,-15)(-2,15.5)};
\legend{dog (5),horse (7)}
\end{axis}
% panel 5
\begin{axis}[panel, low, at={(371.7pt,10.7pt)}, anchor=south west, width=195pt, height=146pt,
  xmin=-26.4,xmax=26.2,ymin=-17.4,ymax=20.2,
  xtick={-20,-10,0,10,20},xticklabels={−20,−10,0,10,20},
  ytick={-15,-10,-5,0,5,10,15},yticklabels={−15,−10,−5,0,5,10,15},
  legend style={at={(0.976,0.963)},anchor=north east}]
\addplot[b,forget plot] coordinates {(-20.5,9)(-19,4.5)(-17,10)(-15.5,8.5)(-14,6.5)(-12.8,7.5)(-11,3)(-9.5,1)(-8.5,2.5)(-7,-3.5)(-5.5,0)(-4.5,-1)(-3,-4)(-1,-7)(-2,-4.5)(0,-6.5)(1.5,-2)(2,-7.5)(3,-7)(4,-9)(5.5,-2)(6.5,-9.5)(8,-10)(9,-9.5)(10.3,-3)(11.5,-7)(13,-8)(13.3,-1)(15,-4)(18.5,-8)(19,-11)(21,-10.5)(3.5,2)(6.5,3)(8.5,1)(-0.5,2)(-3,4)(-10,9)(0.5,-11.5)};
\addplot[b] coordinates {(-24.5,10.2)(-24,10.4)(-23.5,12.5)(-17.5,16.3)(-18.5,14.3)(-16.5,14)(-14.3,11.5)(-22.5,9.5)(-22,8.2)(-21.5,10.5)(-21.5,7)(-21,6)(-20,8.5)(-20,5)(-19.8,3)(-19,7.5)(-18.5,6)(-18,4.3)(-18,9)(-17.5,3)(-17,7)(-16.5,4.5)(-16,6.5)(-15.5,2.5)(-15,4.7)(-15,8)(-14.5,3.5)(-14,5)(-14,11.8)(-13.7,3)(-13.5,4.5)(-13.2,6)(-13,3.5)(-12.8,5)(-12.5,9)(-12.5,2)(-12,4)(-11.8,7)(-11.7,5)(-11.5,3)(-11,1)(-11,9.5)(-10.5,4)(-10.3,6)(-10,2.5)(-10,0)(-9.7,-2)(-9.5,3.5)(-9,0.5)(-9,-3)(-8.7,5)(-8.5,-1)(-8.2,-5)(-8,1.5)(-7.7,-2.5)(-7.5,0.5)(-7.2,-0.5)(-7,-1.5)(-7,3)(-6.8,-3)(-6.5,-1)(-6.3,-2.5)(-6.2,-6)(-6,0.5)(-5.8,-2)(-5.5,-3.5)(-5.2,1)(-5,-7)(-5,-10)(-4.7,-4)(-4.5,-9.5)(-4.2,3.5)(-4,-2)(-3.5,-7)(-3.5,-1)(-3.3,-9.5)(-3,1)(-2.5,-5)(-2.2,9)(-2,8.7)(-1.8,-2)(-1.5,6)(-1.3,-4)(-1.2,1)(-1,-3)(-0.8,-5)(-0.5,-6.5)(-0.3,5)(0,-3.5)(0.2,-5)(0.3,-1)(0.7,7)(0.7,-4)(1,-3)(1,2)(1.3,-5.5)(1.5,-9)(1.7,0)(2,-4)(2,10.8)(2.3,-2)(2.5,-7)(2.7,2)(3,-3.5)(3,4.5)(3.3,7.5)(3.5,-11)(3.7,-5)(4,-6)(4.2,7.5)(4.5,-2)(4.7,-6)(5,-8)(5.2,-15.8)(5.5,-6.5)(5.7,-7)(6,1)(6,-9)(6.3,-5.5)(6.5,-7)(6.8,-6)(7,-10)(7.3,-8.5)(7.5,-7.5)(8,-6)(8,6)(8.3,-8)(8.5,-7)(8.7,-9)(9,-1)(9.3,-7)(9.5,-8)(9.8,3)(10,-9)(10.2,-7.5)(10.5,-5)(10.5,-15.5)(10.7,5.5)(11,-3)(11,0)(11.3,-3.5)(11.7,-4.5)(12,2)(12.3,-6)(12.5,-1.5)(13,-3.5)(13.5,-4)(13.7,2)(14,-4)(14.3,-5)(14.5,-2)(14.7,-11)(15,-9)(15.3,-10)(15.5,-14.7)(16.5,-11)(17,-10)(17,-2)(17,-3)(17.3,2)(17.3,-10.5)(17.7,-3.5)(18,-1.8)(18,-6)(18,-10)(18.3,-5)(18.5,-11)(18.7,-13.5)(19,-2)(19.3,-7)(19.5,-10)(19.5,-4.5)(19.8,-13)(20,-10.5)(20.2,-8)(20.5,-10)(20.7,-11)(21,-9)(21,-13.5)(21.5,-11.5)(22,-10)(22.3,-9.5)(22.5,-12.5)(23,-12)(-6.5,-12.5)(-3,-11.5)(-0.5,-11)(-1.5,-11.5)(0.7,-10)(1,-13)(1.5,-12)(2.7,-9)(7,-11)(12,-11)};
\addplot[o] coordinates {(-23.5,8)(-23.5,6.8)(-23,4.3)(-22.5,7.8)(-22.3,9.7)(-22,13.5)(-22,12)(-21.5,11.7)(-21,12.2)(-21,10)(-20.5,7.5)(-20,14)(-20,11)(-19.5,8)(-19,2)(-18.5,6.5)(-18.5,12.5)(-18,13.5)(-17.7,5.5)(-17.5,1)(-17.5,8)(-17,-1)(-17,12.7)(-17,14)(-16.5,9)(-16,-2)(-16,8)(-15.5,3.7)(-15,15)(-15,11)(-15,1)(-14.8,-2.5)(-14.5,13)(-14.2,7)(-14.2,5)(-14,-5.7)(-13.5,14)(-13.5,2)(-13.5,-2)(-13,12)(-13,15.7)(-13,4)(-12.5,15.8)(-12.2,11)(-12,10.5)(-12,13.5)(-11.7,12)(-11.5,11)(-11.3,15.7)(-11.2,10.8)(-11,-1.5)(-11,14)(-10.5,-3.5)(-10.5,8)(-10.3,2)(-10,-5)(-10,-1)(-9.7,14)(-9.5,-3)(-9.5,5)(-9.5,17.5)(-9.2,-7.5)(-9,17)(-8.7,12)(-8.5,15)(-8.5,8)(-8,-4)(-8,15.5)(-7.5,11.5)(-7,18)(-7,17.5)(-7,-3)(-6.5,15)(-6.7,17)(-6.3,9)(-6,11)(-6,2.5)(-5.5,16)(-5.2,3)(-5,14.5)(-4.8,-2)(-4.5,-5)(-4.5,5.5)(-4.3,13.8)(-4,15.7)(-4,13.5)(-3.7,5)(-3.5,-7.5)(-3.5,1)(-3,9.5)(-3,-0.5)(-2.7,-3)(-2.5,6)(-2.5,3)(-2.3,2)(-2,-9)(-2,-12)(-1.7,-6)(-1.5,3.5)(-1.2,-11.5)(-1,5)(-0.7,13.3)(-0.7,7)(-0.3,-3)(-0.3,13.3)(0,-7)(0.2,2.5)(0.5,-8)(0.7,-1)(1,-11)(1,4.5)(1.5,0)(1.5,-10)(1.7,-14)(2,-6.7)(2.2,2)(2.5,10.5)(2.5,-4.5)(2.7,-12)(3,10.7)(3,-10)(3.3,-1)(3.5,-8)(3.7,1)(4,-12.5)(4,-3.5)(4.3,9.5)(4.5,-9)(4.7,-11)(5,3)(5,-6)(5.3,-1)(5.5,-14.5)(6,-3)(6,2.5)(6,-10)(6.3,6.5)(6.5,-13.5)(6.7,-8)(7,6.5)(7,3)(7.5,-3)(7.5,-11.5)(8,-5.5)(8,1)(8.5,-12)(8.7,-1.5)(9,-6.5)(9.3,-13)(9.5,3.5)(10,-6)(10,-1)(10.3,-11)(10.5,-3)(11,1.5)(11,-10)(11.3,-7.5)(11.5,-12)(12,5.5)(12.3,-2.5)(12.5,0.5)(12.7,-9)(13,-10.5)(13.5,-5.5)(13.7,-14.5)(14,-7.5)(14.3,-15.7)(14.7,-13)(15,-8)(15.3,-4)(15.5,-12.5)(15.7,-11)(16,-10)(16.3,-3)(16.5,-12.5)(16.7,-9)(17,-14.3)(17.3,-11)(17.5,-7)(17.5,-12.5)(17.8,-9)(18,-9)(18.3,-13.3)(18.5,-9.8)(18.7,-14)(19,-13.3)(19.3,-12)(19.7,-9.5)(20,-13)(20.3,-8)(20.7,-6)(21,-14)(21,-12)(21.5,-14)(22,-4)(22.3,-12)(22.5,-11)(22.7,-13)(23,-11.7)(23.3,-11.3)(23.5,-12)(-13,8)(-16,0.5)(-12,6)(-6.5,-4.5)(-3,-1.7)(-1,-0.5)(-21,5)(-18.5,9.5)(-16,11.5)(-15,6)(-13,10)(-12,2.5)(-10,11)(-10,13)(-8.5,-1)(-8,4)(-7,6)(-6,-3)(-5,1)(-2,0)(-1.5,8)(0,-1.5)(0.5,-4.5)(2,-1)(2.5,5)(3,-5)(4,0)(5,-4)(5,-9)(7,-1)(7,-6)(8.5,-8)(10,2)(11,-5.5)(12,-4)(13,-12.5)(14,-9.5)(16,-7.5)(17,-12)(19,-11)(20,-11.5)(1,-7)(-5,7)(6.5,0)};
\legend{bird (2),cat (3)}
\end{axis}
\end{tikzpicture}
\end{document}
